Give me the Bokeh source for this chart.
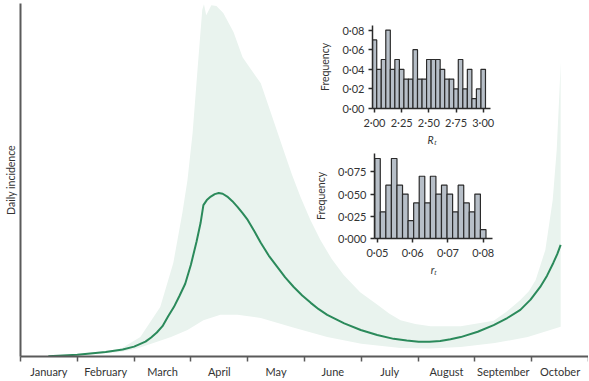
from bokeh.plotting import figure
from bokeh.models import Range1d, FixedTicker, CustomJSTickFormatter
from bokeh.embed import file_html
from bokeh.resources import INLINE

# ---------------- data ----------------
months = ["January", "February", "March", "April", "May", "June",
          "July", "August", "September", "October"]

# central estimate (x in months since 1 Jan, y in relative units 0-100)
mid_x = [0.49, 1.0, 1.5, 1.8, 2.0, 2.2, 2.3, 2.4, 2.5, 2.6, 2.7, 2.8, 2.9, 3.0, 3.1, 3.17,
         3.22, 3.28, 3.35, 3.42, 3.49, 3.56, 3.64, 3.73, 3.82, 3.91, 4.0, 4.12, 4.23,
         4.37, 4.52, 4.66, 4.81, 4.96, 5.11, 5.25, 5.40, 5.7, 5.99, 6.28, 6.57, 6.8,
         7.01, 7.2, 7.39, 7.57, 7.75, 8.05, 8.33, 8.57, 8.80, 8.98, 9.15, 9.27, 9.38,
         9.45, 9.51]
mid_y = [0.1, 0.5, 1.3, 2.0, 2.8, 4.2, 5.4, 6.8, 8.6, 11.4, 14.0, 17.2, 20.6, 26.0, 32.6, 37.8,
         42.9, 44.3, 45.3, 46.0, 46.3, 46.1, 45.3, 44.0, 42.4, 40.6, 38.7, 35.4, 32.2,
         28.6, 25.4, 22.4, 19.7, 17.3, 15.2, 13.4, 11.8, 9.4, 7.5, 6.1, 5.0, 4.5,
         4.2, 4.2, 4.4, 4.9, 5.5, 7.0, 8.9, 10.9, 13.2, 16.1, 19.7, 22.9, 26.5,
         29.0, 31.6]

up_x = [0.49, 1.06, 1.76, 2.11, 2.46, 2.69, 2.85, 2.94, 3.03, 3.12, 3.20, 3.23, 3.27,
        3.36, 3.45, 3.57, 3.75, 3.91, 4.05, 4.23, 4.43, 4.63, 4.78, 4.93, 5.1, 5.28,
        5.48, 5.69, 5.98, 6.29, 6.49, 6.69, 6.95, 7.22, 7.75, 8.33, 8.55, 8.80, 8.95,
        9.07, 9.24, 9.37, 9.44, 9.49, 9.51]
up_y = [0.1, 0.7, 2.1, 5.5, 14.0, 26.5, 40.7, 50.0, 63.3, 82.0, 98.2, 99.8, 96.7,
        99.5, 99.3, 97.3, 91.9, 84.8, 81.5, 77.4, 68.0, 58.5, 51.5, 45.2, 38.8, 33.0,
        27.6, 23.1, 18.2, 14.6, 12.2, 10.3, 9.2, 8.6, 8.6, 10.1, 12.6, 16.0, 18.5,
        21.7, 30.2, 44.3, 58.5, 75.5, 83.4]

lo_x = [0.49, 1.2, 1.76, 2.05, 2.34, 2.65, 2.94, 3.22, 3.52, 3.82, 4.23, 4.8, 5.40,
        6.0, 6.69, 7.2, 7.75, 8.35, 8.93, 9.51]
lo_y = [0.1, 0.6, 1.3, 2.3, 3.8, 5.5, 7.5, 10.3, 11.8, 11.8, 10.9, 8.2, 5.5,
        3.6, 2.4, 2.3, 2.7, 3.8, 5.5, 8.4]

# histogram of R_t
R_centers = [2.0 + i / 24 for i in range(25)]
R_freq = [0.07, 0.04, 0.05, 0.08, 0.04, 0.05, 0.04, 0.03, 0.03, 0.06, 0.03, 0.03, 0.05,
          0.05, 0.05, 0.04, 0.03, 0.03, 0.02, 0.05, 0.02, 0.04, 0.01, 0.02, 0.04]
R_ticks = [2.0, 2.25, 2.5, 2.75, 3.0]
R_yticks = [0.0, 0.02, 0.04, 0.06, 0.08]

# histogram of r_t
r_centers = [0.05 + i * 0.03 / 19 for i in range(20)]
r_freq = [0.09, 0.03, 0.06, 0.09, 0.06, 0.05, 0.02, 0.04, 0.07, 0.04, 0.07, 0.05,
          0.06, 0.05, 0.03, 0.06, 0.04, 0.03, 0.05, 0.01]
r_ticks = [0.05, 0.06, 0.07, 0.08]
r_yticks = [0.0, 0.025, 0.05, 0.075]

FONT = "Lato"
AX = "#5a5a5a"
GREEN = "#2b8a5b"
BAND = "#e9f3ee"

# ---------------- main chart ----------------
p = figure(output_backend="svg", toolbar_location=None,
           x_range=Range1d(0, 10), y_range=Range1d(0, 100),
           frame_width=568, frame_height=353,
           min_border_left=20, min_border_right=0, min_border_top=3, min_border_bottom=24,
           background_fill_color=None, border_fill_color=None,
           styles={"position": "absolute", "left": "0px", "top": "0px"})
p.outline_line_color = None
p.grid.visible = False

p.patch(up_x + lo_x[::-1], up_y + lo_y[::-1], fill_color=BAND, line_color=None)
p.line(mid_x, mid_y, line_color=GREEN, line_width=2, line_join="round")

xa = p.xaxis[0]
xa.ticker = FixedTicker(ticks=[i + 0.5 for i in range(10)], minor_ticks=list(range(11)))
xa.formatter = CustomJSTickFormatter(args=dict(labels=months),
                                     code="return labels[Math.floor(tick)];")
xa.major_tick_line_color = None
xa.major_tick_out = 0
xa.major_tick_in = 0
xa.minor_tick_out = 5
xa.minor_tick_in = 0
xa.minor_tick_line_color = AX
xa.minor_tick_line_width = 1.5
xa.axis_line_color = AX
xa.axis_line_width = 2
xa.major_label_standoff = 3
xa.major_label_text_font = FONT
xa.major_label_text_font_size = "11px"
xa.major_label_text_color = "#333333"

ya = p.yaxis[0]
ya.ticker = FixedTicker(ticks=[])
ya.major_tick_out = 0
ya.major_tick_in = 0
ya.minor_tick_out = 0
ya.minor_tick_in = 0
ya.major_label_text_font_size = "0px"
ya.axis_line_color = AX
ya.axis_line_width = 2
ya.axis_label = "Daily incidence"
ya.axis_label_standoff = 4
ya.axis_label_text_font = FONT
ya.axis_label_text_font_size = "10.5px"
ya.axis_label_text_font_style = "normal"
ya.axis_label_text_color = "#333333"


def style_inset(f, xlabel, xticks, yticks, ydec):
    f.outline_line_color = None
    f.grid.visible = False
    xa = f.xaxis[0]
    xa.ticker = FixedTicker(ticks=xticks)
    xa.formatter = CustomJSTickFormatter(code="return tick.toFixed(2).replace('.', '\u00b7');")
    ya = f.yaxis[0]
    ya.ticker = FixedTicker(ticks=yticks)
    ya.formatter = CustomJSTickFormatter(code="return tick.toFixed(%d).replace('.', '\u00b7');" % ydec)
    for a in (xa, ya):
        a.axis_line_color = "#2b2b2b"
        a.axis_line_width = 1.5
        a.major_tick_line_color = "#2b2b2b"
        a.major_tick_line_width = 1.5
        a.major_tick_out = 4
        a.major_tick_in = 0
        a.minor_tick_line_color = None
        a.major_label_text_font = FONT
        a.major_label_text_font_size = "11px"
        a.major_label_text_color = "#333333"
        a.axis_label_text_font = FONT
        a.axis_label_text_color = "#333333"
        a.axis_label_text_font_size = "10.5px"
    xa.major_label_standoff = 3
    xa.axis_label = xlabel
    xa.axis_label_text_font_style = "italic"
    xa.axis_label_standoff = 2
    ya.major_label_standoff = 4
    ya.axis_label = "Frequency"
    ya.axis_label_text_font_style = "normal"
    ya.axis_label_standoff = 8


h1 = figure(output_backend="svg", toolbar_location=None,
            x_range=Range1d(1.982, 3.067), y_range=Range1d(0, 0.0847),
            frame_width=118, frame_height=83,
            min_border_left=60, min_border_right=10, min_border_top=5, min_border_bottom=38,
            background_fill_color=None, border_fill_color=None,
            styles={"position": "absolute", "left": "312px", "top": "20px"})
h1.vbar(x=R_centers, top=R_freq, bottom=0, width=1 / 24,
        fill_color="#b7bfc8", line_color="#2b2b2b", line_width=1.2)
style_inset(h1, "R\u209c", R_ticks, R_yticks, 2)

h2 = figure(output_backend="svg", toolbar_location=None,
            x_range=Range1d(0.04915, 0.08264), y_range=Range1d(0, 0.0956),
            frame_width=118, frame_height=85,
            min_border_left=60, min_border_right=10, min_border_top=5, min_border_bottom=40,
            background_fill_color=None, border_fill_color=None,
            styles={"position": "absolute", "left": "312px", "top": "148px"})
h2.vbar(x=r_centers, top=r_freq, bottom=0, width=0.03 / 19,
        fill_color="#b7bfc8", line_color="#2b2b2b", line_width=1.2)
style_inset(h2, "r\u209c", r_ticks, r_yticks, 3)

open("out.html", "w").write(file_html([p, h1, h2], INLINE))
